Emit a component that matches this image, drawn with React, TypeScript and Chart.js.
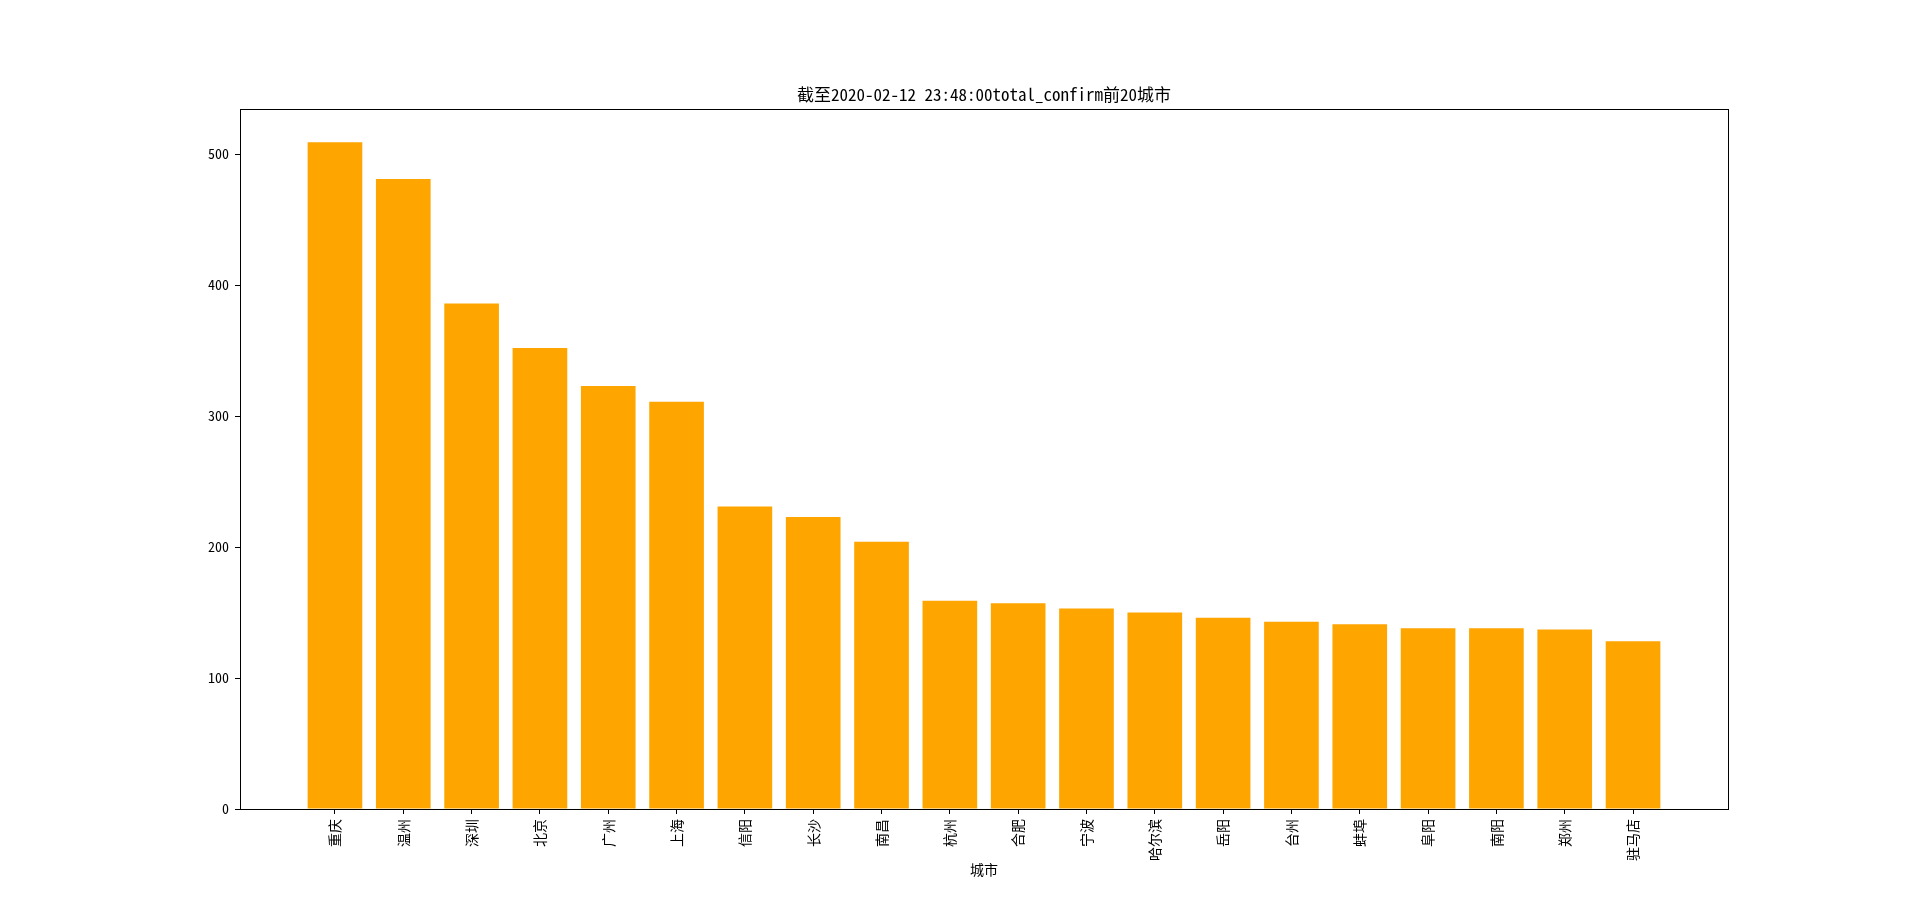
import { useEffect, useRef } from 'react';
import { Chart, registerables } from 'chart.js';

Chart.register(...registerables);

const cities = ['重庆', '温州', '深圳', '北京', '广州', '上海', '信阳', '长沙', '南昌', '杭州',
  '合肥', '宁波', '哈尔滨', '岳阳', '台州', '蚌埠', '阜阳', '南阳', '郑州', '驻马店'];
const totalConfirm = [509, 481, 386, 352, 323, 311, 231, 223, 204, 159,
  157, 153, 150, 146, 143, 141, 138, 138, 137, 128];
const yTicks = [0, 100, 200, 300, 400, 500];
const chartTitle = '截至2020-02-12 23:48:00total_confirm前20城市';
const xTitle = '城市';

const FONT = "'Noto Sans Mono CJK SC', 'Noto Sans CJK SC', sans-serif";

// matplotlib-style box around the plot area
const framePlugin = {
  id: 'frame',
  afterDraw(chart) {
    const { ctx, chartArea: a } = chart;
    ctx.save();
    ctx.strokeStyle = '#000';
    ctx.lineWidth = 1;
    ctx.strokeRect(a.left + 0.5, a.top + 0.5, a.right - a.left, a.bottom - a.top);
    ctx.restore();
  }
};

const App = () => {
  const chartRef = useRef(null);
  const chartInstance = useRef(null);

  useEffect(() => {
    if (!chartRef.current) return;
    const ctx = chartRef.current.getContext('2d');
    if (chartInstance.current) chartInstance.current.destroy();

    // same limits matplotlib picks: bar edges plus 5% margin
    const lo = -0.4;
    const hi = cities.length - 1 + 0.4;
    const pad = (hi - lo) * 0.05;
    const yMax = Math.max(...totalConfirm) * 1.05;

    chartInstance.current = new Chart(ctx, {
      type: 'bar',
      data: {
        datasets: [{
          data: totalConfirm.map((v, i) => ({ x: i, y: v })),
          backgroundColor: '#FFA500',
          borderWidth: 0,
          categoryPercentage: 0.8,
          barPercentage: 1.0
        }]
      },
      plugins: [framePlugin],
      options: {
        animation: false,
        responsive: false,
        layout: { padding: { left: 0, right: 192, top: 84, bottom: 0 } },
        plugins: {
          legend: { display: false },
          tooltip: { enabled: false },
          title: {
            display: true,
            fullSize: false, // center over the plot area, not the canvas
            text: chartTitle,
            color: '#000',
            font: { family: FONT, size: 17, weight: 'normal' },
            padding: { top: 0, bottom: 4.6 }
          }
        },
        scales: {
          x: {
            type: 'linear',
            min: lo - pad,
            max: hi + pad,
            offset: false,
            afterFit: (s) => { s.height = 100; },
            afterBuildTicks: (s) => { s.ticks = cities.map((_, i) => ({ value: i })); },
            grid: { offset: false, drawOnChartArea: false, drawTicks: true, tickLength: 5, color: '#000' },
            border: { display: true, color: '#000' },
            ticks: {
              autoSkip: false,
              minRotation: 90,
              maxRotation: 90,
              padding: 5,
              color: '#000',
              font: { family: FONT, size: 14 },
              callback: (v) => cities[v] ?? ''
            },
            title: {
              display: true,
              text: xTitle,
              color: '#000',
              font: { family: FONT, size: 14 },
              padding: { top: 0, bottom: 31 }
            }
          },
          y: {
            min: 0,
            max: yMax,
            afterFit: (s) => { s.width = 240; },
            afterBuildTicks: (s) => { s.ticks = yTicks.map((v) => ({ value: v })); },
            grid: { drawOnChartArea: false, drawTicks: true, tickLength: 5, color: '#000' },
            border: { display: true, color: '#000' },
            ticks: {
              padding: 6,
              color: '#000',
              font: { family: FONT, size: 14 }
            }
          }
        }
      }
    });

    return () => {
      if (chartInstance.current) {
        chartInstance.current.destroy();
        chartInstance.current = null;
      }
    };
  }, []);

  return (
    <div style={{ position: 'absolute', left: 0, top: 0, width: 1920, height: 909, background: '#fff' }}>
      <canvas ref={chartRef} width={1920} height={909} style={{ display: 'block' }} />
    </div>
  );
};

export default App;
